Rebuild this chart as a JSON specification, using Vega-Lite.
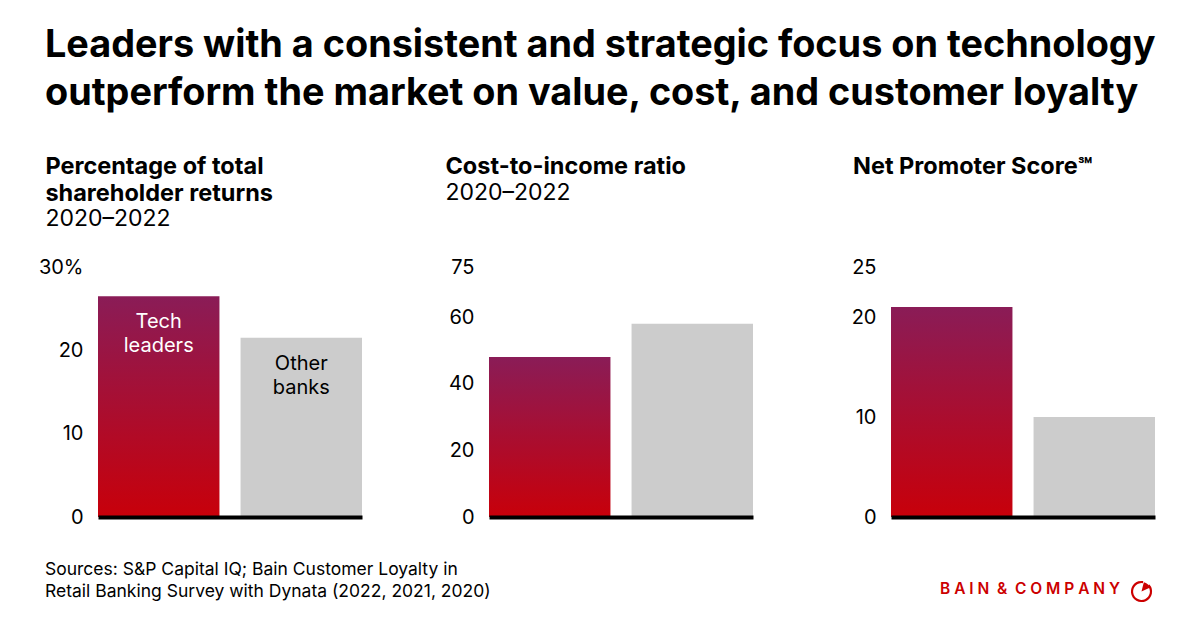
{
  "$schema": "https://vega.github.io/schema/vega-lite/v6.json",
  "background": "#ffffff",
  "padding": {"left": 38, "top": 27, "right": 40, "bottom": 10},
  "title": {
    "text": ["Leaders with a consistent and strategic focus on technology", "outperform the market on value, cost, and customer loyalty"],
    "anchor": "start",
    "frame": "group",
    "dx": -53,
    "fontSize": 37.8,
    "lineHeight": 48,
    "fontWeight": "bold",
    "offset": 42
  },
  "datasets": {
    "tsr": [
      {"group": "Tech leaders", "value": 26.5, "label": "Tech\nleaders"},
      {"group": "Other banks", "value": 21.5, "label": "Other\nbanks"}
    ],
    "cost": [
      {"group": "Tech leaders", "value": 48},
      {"group": "Other banks", "value": 58}
    ],
    "nps": [
      {"group": "Tech leaders", "value": 21},
      {"group": "Other banks", "value": 10}
    ],
    "footer": [
      {"sources": "Sources: S&P Capital IQ; Bain Customer Loyalty in\nRetail Banking Survey with Dynata (2022, 2021, 2020)", "brand": "B\u2005A\u2005I\u2005N\u2005\u2005&\u2005\u2005C\u2005O\u2005M\u2005P\u2005A\u2005N\u2005Y"}
    ]
  },
  "vconcat": [
    {
      "hconcat": [
        {
          "width": 264,
          "height": 250,
          "title": {"text": ["Percentage of total", "shareholder returns"], "subtitle": "2020–2022", "dx": 7},
          "data": {"name": "tsr"},
          "layer": [
            {
              "mark": {"type": "bar"},
              "encoding": {
                "x": {"field": "group", "type": "nominal", "sort": ["Tech leaders", "Other banks"], "scale": {"paddingInner": 0.148, "paddingOuter": 0}, "axis": {"title": null, "labels": false, "ticks": false, "domainColor": "#000000", "domainWidth": 4, "zindex": 1}},
                "y": {"field": "value", "type": "quantitative", "scale": {"domain": [0, 30], "nice": false}, "axis": {"title": null, "values": [0, 10, 20, 30], "labelExpr": "datum.value == 30 ? '30%' : datum.label", "minExtent": 53, "maxExtent": 53}},
                "color": {
                  "condition": {"test": "datum.group === 'Tech leaders'", "value": {"gradient": "linear", "x1": 0, "y1": 0, "x2": 0, "y2": 1, "stops": [{"offset": 0, "color": "#8a1c57"}, {"offset": 1, "color": "#c8000a"}]}},
                  "value": "#cccccc"
                }
              }
            },
            {
              "mark": {"type": "text", "lineBreak": "\n", "baseline": "top", "dy": 16, "fontSize": 20, "lineHeight": 24},
              "encoding": {
                "x": {"field": "group", "type": "nominal", "sort": ["Tech leaders", "Other banks"]},
                "y": {"field": "value", "type": "quantitative"},
                "text": {"field": "label"},
                "color": {"condition": {"test": "datum.group === 'Tech leaders'", "value": "#ffffff"}, "value": "#000000"}
              }
            }
          ]
        },
        {
          "width": 264,
          "height": 250,
          "title": {"text": "Cost-to-income ratio", "subtitle": ["2020–2022", " "], "dx": -3},
          "data": {"name": "cost"},
          "mark": {"type": "bar"},
          "encoding": {
            "x": {"field": "group", "type": "nominal", "sort": ["Tech leaders", "Other banks"], "scale": {"paddingInner": 0.148, "paddingOuter": 0}, "axis": {"title": null, "labels": false, "ticks": false, "domainColor": "#000000", "domainWidth": 4, "zindex": 1}},
            "y": {"field": "value", "type": "quantitative", "scale": {"domain": [0, 75], "nice": false}, "axis": {"title": null, "values": [0, 20, 40, 60, 75], "minExtent": 39, "maxExtent": 39}},
            "color": {
              "condition": {"test": "datum.group === 'Tech leaders'", "value": {"gradient": "linear", "x1": 0, "y1": 0, "x2": 0, "y2": 1, "stops": [{"offset": 0, "color": "#8a1c57"}, {"offset": 1, "color": "#c8000a"}]}},
              "value": "#cccccc"
            }
          }
        },
        {
          "width": 264,
          "height": 250,
          "title": {"text": ["Net Promoter Score℠", " "], "subtitle": " ", "dx": 17},
          "data": {"name": "nps"},
          "mark": {"type": "bar"},
          "encoding": {
            "x": {"field": "group", "type": "nominal", "sort": ["Tech leaders", "Other banks"], "scale": {"paddingInner": 0.148, "paddingOuter": 0}, "axis": {"title": null, "labels": false, "ticks": false, "domainColor": "#000000", "domainWidth": 4, "zindex": 1}},
            "y": {"field": "value", "type": "quantitative", "scale": {"domain": [0, 25], "nice": false}, "axis": {"title": null, "values": [0, 10, 20, 25], "minExtent": 55, "maxExtent": 55}},
            "color": {
              "condition": {"test": "datum.group === 'Tech leaders'", "value": {"gradient": "linear", "x1": 0, "y1": 0, "x2": 0, "y2": 1, "stops": [{"offset": 0, "color": "#8a1c57"}, {"offset": 1, "color": "#c8000a"}]}},
              "value": "#cccccc"
            }
          }
        }
      ]
    },
    {
      "width": 1056,
      "height": 40,
      "data": {"name": "footer"},
      "layer": [
        {
          "mark": {"type": "text", "lineBreak": "\n", "align": "left", "baseline": "alphabetic", "fontSize": 17.5, "lineHeight": 22, "color": "#000000"},
          "encoding": {"x": {"value": -53}, "y": {"value": 14}, "text": {"field": "sources"}}
        },
        {
          "mark": {"type": "text", "align": "right", "baseline": "alphabetic", "fontSize": 15.5, "fontWeight": 600, "color": "#cc0000"},
          "encoding": {"x": {"value": 1022}, "y": {"value": 33}, "text": {"field": "brand"}}
        },
        {
          "mark": {"type": "arc", "innerRadius": 8.4, "outerRadius": 10.6, "theta": 0.85, "theta2": 6.45, "color": "#cc0000"},
          "encoding": {"x": {"value": 1043.5}, "y": {"value": 30.5}}
        },
        {
          "mark": {"type": "arc", "innerRadius": 0, "outerRadius": 9.5, "theta": 0.25, "theta2": 1.15, "color": "#cc0000"},
          "encoding": {"x": {"value": 1043.5}, "y": {"value": 30.5}}
        }
      ]
    }
  ],
  "spacing": 34,
  "config": {
    "font": "Inter",
    "view": {"stroke": null},
    "concat": {"spacing": 83},
    "title": {"anchor": "start", "fontSize": 23.5, "fontWeight": "bold", "lineHeight": 26.5, "subtitleFontSize": 23, "subtitleFontWeight": "normal", "subtitleLineHeight": 26.5, "subtitlePadding": 0, "subtitleColor": "#000000", "color": "#000000", "offset": 26},
    "axis": {"grid": false, "labelFontSize": 20, "labelColor": "#000000", "labelPadding": 15, "ticks": false, "domain": false},
    "axisX": {"domain": true},
    "text": {"font": "Inter"}
  }
}
